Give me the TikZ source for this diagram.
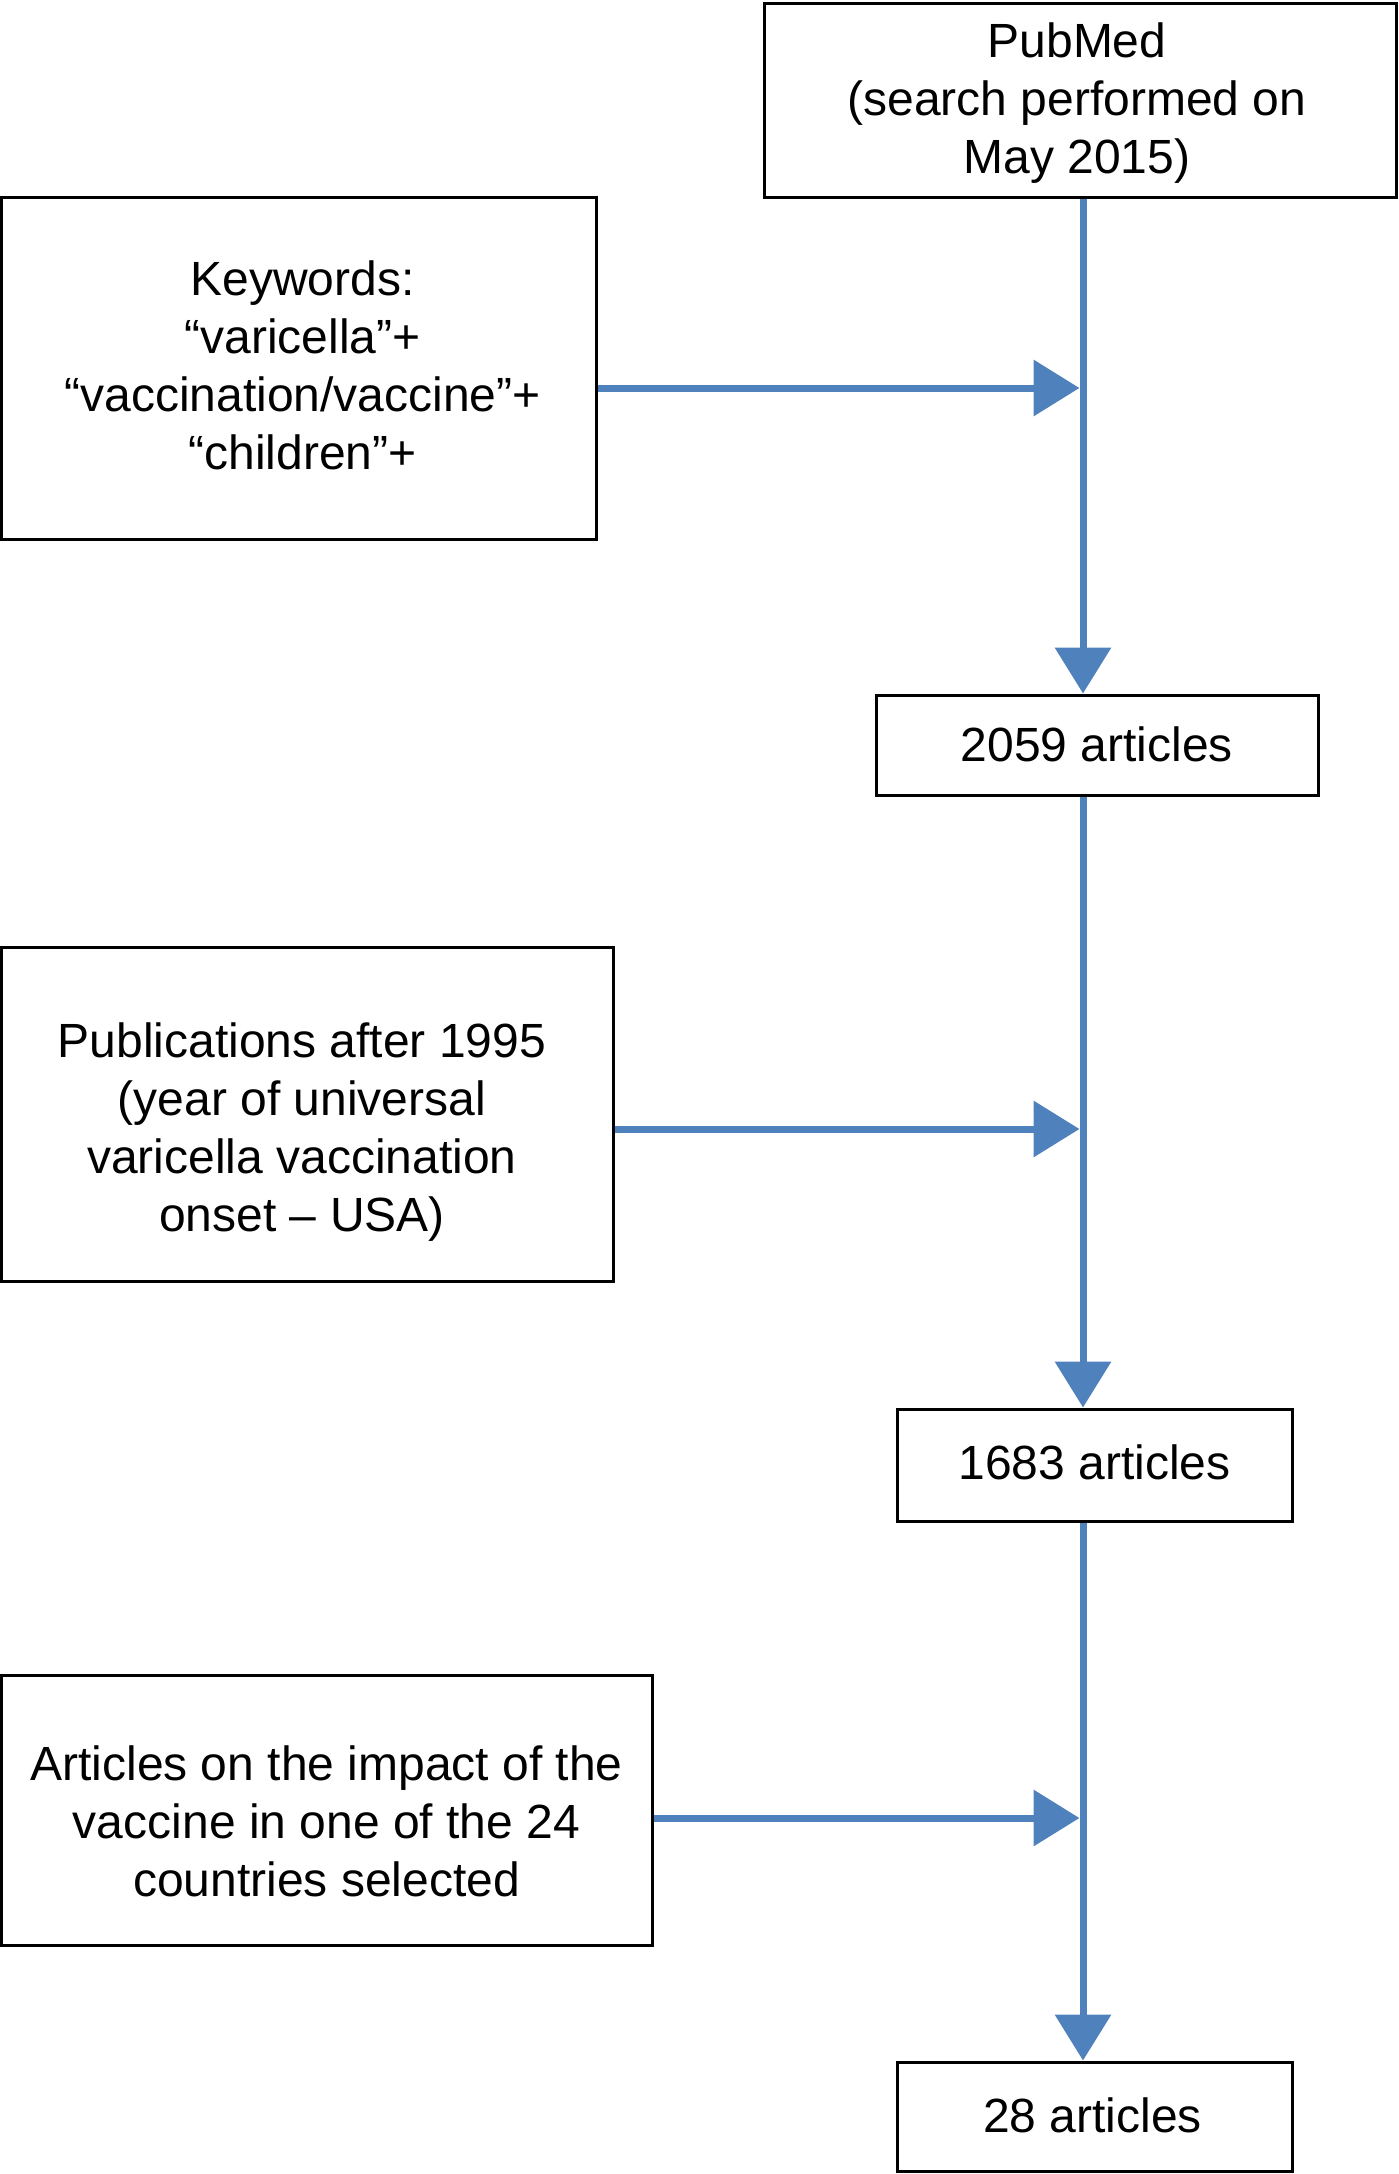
\documentclass[tikz,border=0pt]{standalone}
\usepackage{fontspec}
\setmainfont{Liberation Sans}
\usetikzlibrary{arrows.meta}
\definecolor{flowblue}{RGB}{79,129,189}
\begin{document}
\begin{tikzpicture}[x=1pt,y=-1pt,
  box/.style={draw=black, line width=3pt, inner sep=0pt},
  lbl/.style={inner sep=0pt, align=center, font=\fontsize{48}{58}\selectfont},
  flow/.style={draw=flowblue, line width=7pt,
    -{Triangle[length=46pt,width=55pt]}}]
\useasboundingbox (0,0) rectangle (1399,2174);
\coordinate (trunk) at (1083,0);
\coordinate (k1) at (0,388);
\coordinate (k2) at (0,1129);
\coordinate (k3) at (0,1818);
\node[box, minimum width=632pt, minimum height=194pt,
  label={[lbl, shift={(-3,3)}]center:{PubMed\\(search performed on\\May 2015)}}]
  (pub) at (1080,100) {};
\node[box, minimum width=595pt, minimum height=342pt,
  label={[lbl, shift={(4,-3)}]center:{Keywords:\\“varicella”+\\“vaccination/vaccine”+\\“children”+}}]
  (kw) at (298.5,368) {};
\node[box, minimum width=442pt, minimum height=100pt,
  label={[lbl, shift={(0,-1)}]center:{2059 articles}}]
  (a1) at (1097,745) {};
\node[box, minimum width=612pt, minimum height=334pt,
  label={[lbl, shift={(-5,18)}]center:{Publications after 1995\\(year of universal\\varicella vaccination\\onset – USA)}}]
  (pubs) at (307,1114) {};
\node[box, minimum width=395pt, minimum height=112pt,
  label={[lbl, shift={(0,-3)}]center:{1683 articles}}]
  (a2) at (1094.5,1465) {};
\node[box, minimum width=651pt, minimum height=270pt,
  label={[lbl, shift={(0,11)}]center:{Articles on the impact of the\\vaccine in one of the 24\\countries selected}}]
  (imp) at (326.5,1810) {};
\node[box, minimum width=395pt, minimum height=109pt,
  label={[lbl, shift={(-2,-1)}]center:{28 articles}}]
  (a3) at (1094.5,2116.5) {};
\draw[flow] (pub.south -| trunk) -- (a1.north -| trunk);
\draw[flow] (a1.south -| trunk) -- (a2.north -| trunk);
\draw[flow] (a2.south -| trunk) -- (a3.north -| trunk);
\draw[flow, shorten >=3.5pt] (kw.east |- k1) -- (trunk |- k1);
\draw[flow, shorten >=3.5pt] (pubs.east |- k2) -- (trunk |- k2);
\draw[flow, shorten >=3.5pt] (imp.east |- k3) -- (trunk |- k3);
\end{tikzpicture}
\end{document}
